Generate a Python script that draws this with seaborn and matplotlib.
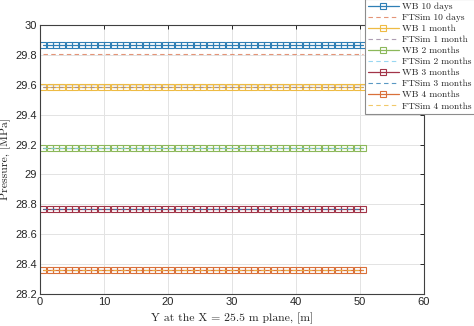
import numpy as np
import pandas as pd
import matplotlib
matplotlib.use("Agg")
import matplotlib.pyplot as plt
import seaborn as sns

# Data
y_pos = [0.5 + i for i in range(51)]  # sample positions along Y, [m]
labels = ["WB 10 days", "FTSim 10 days", "WB 1 month", "FTSim 1 month",
          "WB 2 months", "FTSim 2 months", "WB 3 months", "FTSim 3 months",
          "WB 4 months", "FTSim 4 months"]
pressure = [29.865, 29.805, 29.585, 29.585, 29.176, 29.176,
            28.770, 28.770, 28.358, 28.358]
colors = ["#2f7fb5", "#de7a55", "#eebb44", "#9a86a0", "#8cb85a",
          "#7fcdee", "#a23448", "#2f7fb5", "#d9703a", "#eebb44"]
x_ticks = [0, 10, 20, 30, 40, 50, 60]
y_ticks = [28.2, 28.4, 28.6, 28.8, 29, 29.2, 29.4, 29.6, 29.8, 30]
y_tick_labels = ["28.2", "28.4", "28.6", "28.8", "29", "29.2", "29.4", "29.6", "29.8", "30"]

sns.set_theme(style="white")
plt.rcParams['font.family'] = ['Liberation Sans', 'DejaVu Sans']

fig = plt.figure(figsize=(4.74, 3.26), dpi=100)
ax = fig.add_axes([40/474, 32/326, 384/474, 269/326])

for lab, p, c in zip(labels, pressure, colors):
    df = pd.DataFrame({"y": y_pos, "p": [p] * len(y_pos)})
    if lab.startswith("WB"):
        sns.lineplot(data=df, x="y", y="p", ax=ax, color=c, linestyle="-",
                     linewidth=0.9, marker="s", markersize=4.3,
                     markerfacecolor="none", markeredgecolor=c,
                     markeredgewidth=0.8, label=lab)
    else:
        sns.lineplot(data=df, x="y", y="p", ax=ax, color=c, linestyle=(0, (4, 3)),
                     linewidth=0.8, alpha=0.8, label=lab)

ax.set_xlim(0, 60)
ax.set_ylim(28.2, 30)
ax.set_xticks(x_ticks)
ax.set_yticks(y_ticks)
ax.set_xticklabels([str(t) for t in x_ticks])
ax.set_yticklabels(y_tick_labels)
ax.grid(True, color="#e3e3e3", linewidth=0.7)
ax.tick_params(direction="in", length=3, width=0.7, top=True, right=True,
               labelsize=8, colors="#262626", pad=2)
for s in ax.spines.values():
    s.set_color("#404040")
    s.set_linewidth(0.8)

ax.set_xlabel("Y at the X = 25.5 m plane, [m]", family="cmr10",
              fontsize=8.5, color="#262626", labelpad=4)
ax.set_ylabel("Pressure, [MPa]", family="cmr10",
              fontsize=8.5, color="#262626", labelpad=3)

ax.get_legend().remove()
handles, labs = ax.get_legend_handles_labels()
leg = fig.legend(handles, labs, loc="upper left",
                 bbox_to_anchor=(365/474, 1.003), frameon=True, fancybox=False,
                 prop={"family": "cmr10", "size": 6.8},
                 labelspacing=0.26, handlelength=3.2, handletextpad=0.35,
                 borderpad=0.35, borderaxespad=0)
leg.get_frame().set_edgecolor("#8c8c8c")
leg.get_frame().set_linewidth(0.8)
leg.get_frame().set_alpha(1)

fig.savefig("out.png", dpi=100)
